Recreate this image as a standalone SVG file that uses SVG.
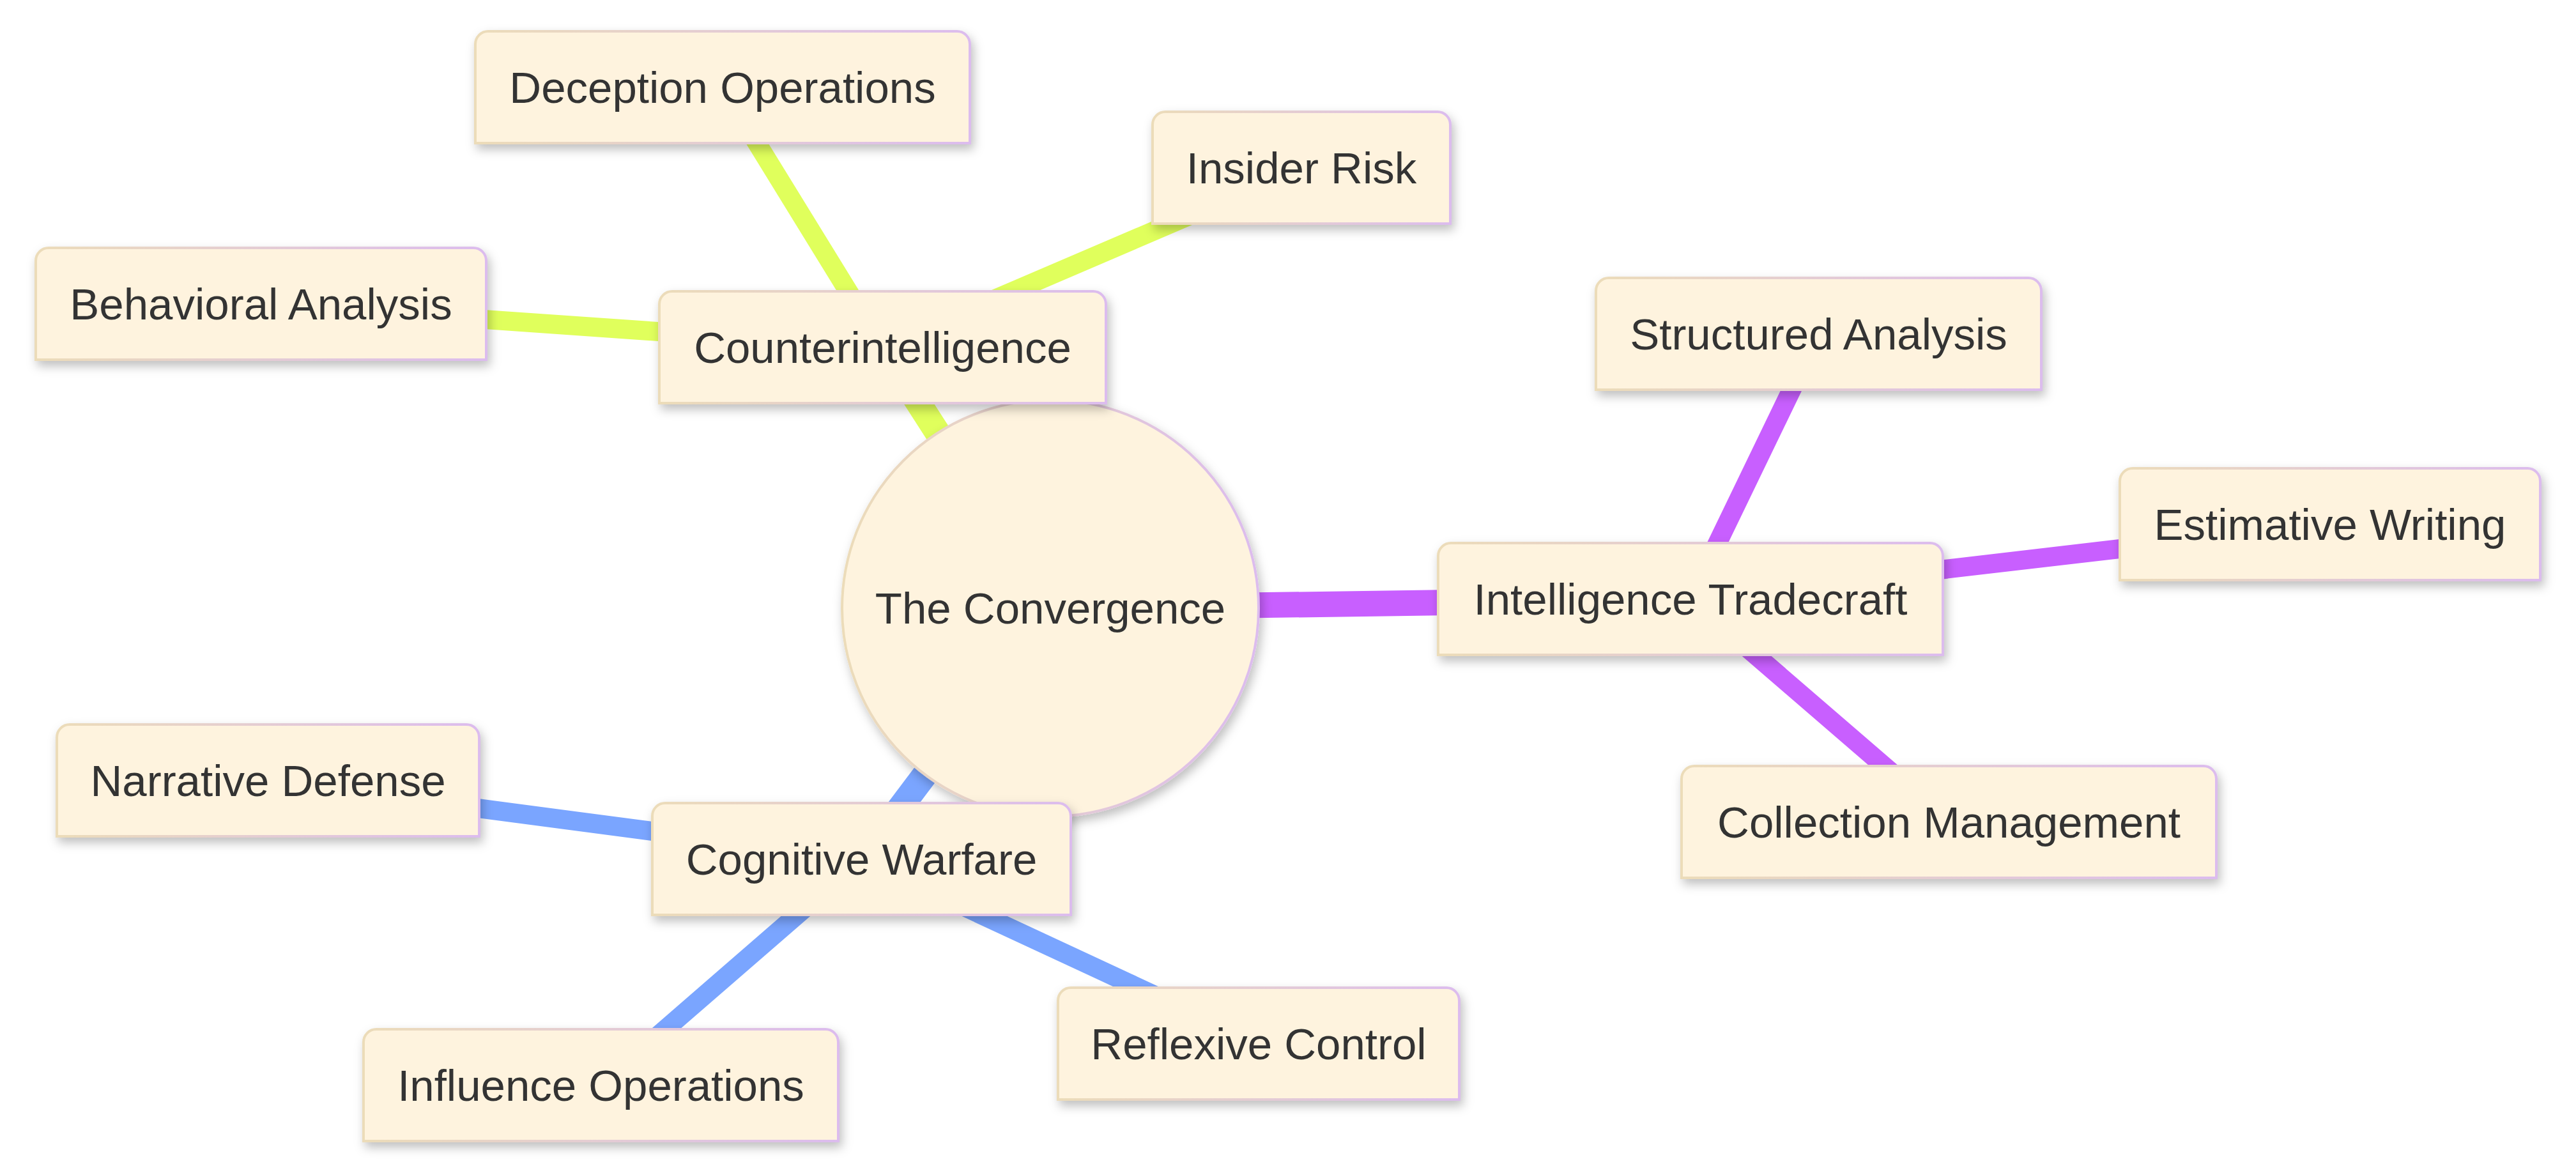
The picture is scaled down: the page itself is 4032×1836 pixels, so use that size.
<svg xmlns="http://www.w3.org/2000/svg" width="4032" height="1836" viewBox="0 0 4032 1836">
<defs>
<linearGradient id="border" x1="0" y1="0" x2="1" y2="0">
<stop offset="0" stop-color="#ecdcb9"/>
<stop offset="1" stop-color="#dcbcee"/>
</linearGradient>
<filter id="shadow" x="-10%" y="-20%" width="120%" height="150%">
<feDropShadow dx="4" dy="8" stdDeviation="8" flood-color="#000" flood-opacity="0.25"/>
</filter>
<style>
.node{fill:#fef3de;stroke:url(#border);stroke-width:4;filter:url(#shadow);}
.label{font-family:"Liberation Sans",Arial,sans-serif;font-size:69px;fill:#333;text-anchor:middle;}
.edge{fill:none;stroke-linecap:butt;}
.d1{stroke-width:40;}
.d2{stroke-width:30;}
.ci{stroke:#e0ff5c;}
.it{stroke:#c85fff;}
.cw{stroke:#7aa5ff;}
</style>
</defs>
<rect x="0" y="0" width="4032" height="1836" fill="#ffffff"/>
<g id="connectors">
<line class="edge d1 ci" x1="1644" y1="952" x2="1381.5" y2="543.5"/>
<line class="edge d1 it" x1="1644" y1="952" x2="2646" y2="937.5"/>
<line class="edge d1 cw" x1="1644" y1="952" x2="1348.5" y2="1344.5"/>
<line class="edge d2 ci" x1="1381.5" y1="543.5" x2="1131" y2="136.5"/>
<line class="edge d2 ci" x1="1381.5" y1="543.5" x2="2037" y2="262.5"/>
<line class="edge d2 ci" x1="1381.5" y1="543.5" x2="408.5" y2="475.5"/>
<line class="edge d2 it" x1="2646" y1="937.5" x2="2846.5" y2="522.5"/>
<line class="edge d2 it" x1="2646" y1="937.5" x2="3647" y2="820.5"/>
<line class="edge d2 it" x1="2646" y1="937.5" x2="3050.5" y2="1286.5"/>
<line class="edge d2 cw" x1="1348.5" y1="1344.5" x2="419.5" y2="1221.5"/>
<line class="edge d2 cw" x1="1348.5" y1="1344.5" x2="940.5" y2="1698.5"/>
<line class="edge d2 cw" x1="1348.5" y1="1344.5" x2="1970" y2="1633.5"/>
</g>
<g id="root">
<circle class="node" cx="1644" cy="952" r="326"/>
<text class="label" x="1644" y="976">The Convergence</text>
</g>
<g id="counterintelligence">
<path class="node" d="M1032,631 V476 A20,20 0 0 1 1052,456 H1711 A20,20 0 0 1 1731,476 V631 Z"/>
<text class="label" x="1381.5" y="567.5">Counterintelligence</text>
</g>
<g id="deception-operations">
<path class="node" d="M744,224 V69 A20,20 0 0 1 764,49 H1498 A20,20 0 0 1 1518,69 V224 Z"/>
<text class="label" x="1131" y="160.5">Deception Operations</text>
</g>
<g id="insider-risk">
<path class="node" d="M1804,350 V195 A20,20 0 0 1 1824,175 H2250 A20,20 0 0 1 2270,195 V350 Z"/>
<text class="label" x="2037" y="286.5">Insider Risk</text>
</g>
<g id="behavioral-analysis">
<path class="node" d="M56,563 V408 A20,20 0 0 1 76,388 H741 A20,20 0 0 1 761,408 V563 Z"/>
<text class="label" x="408.5" y="499.5">Behavioral Analysis</text>
</g>
<g id="intelligence-tradecraft">
<path class="node" d="M2251,1025 V870 A20,20 0 0 1 2271,850 H3021 A20,20 0 0 1 3041,870 V1025 Z"/>
<text class="label" x="2646" y="961.5">Intelligence Tradecraft</text>
</g>
<g id="structured-analysis">
<path class="node" d="M2498,610 V455 A20,20 0 0 1 2518,435 H3175 A20,20 0 0 1 3195,455 V610 Z"/>
<text class="label" x="2846.5" y="546.5">Structured Analysis</text>
</g>
<g id="estimative-writing">
<path class="node" d="M3318,908 V753 A20,20 0 0 1 3338,733 H3956 A20,20 0 0 1 3976,753 V908 Z"/>
<text class="label" x="3647" y="844.5">Estimative Writing</text>
</g>
<g id="collection-management">
<path class="node" d="M2632,1374 V1219 A20,20 0 0 1 2652,1199 H3449 A20,20 0 0 1 3469,1219 V1374 Z"/>
<text class="label" x="3050.5" y="1310.5">Collection Management</text>
</g>
<g id="cognitive-warfare">
<path class="node" d="M1021,1432 V1277 A20,20 0 0 1 1041,1257 H1656 A20,20 0 0 1 1676,1277 V1432 Z"/>
<text class="label" x="1348.5" y="1368.5">Cognitive Warfare</text>
</g>
<g id="narrative-defense">
<path class="node" d="M89,1309 V1154 A20,20 0 0 1 109,1134 H730 A20,20 0 0 1 750,1154 V1309 Z"/>
<text class="label" x="419.5" y="1245.5">Narrative Defense</text>
</g>
<g id="influence-operations">
<path class="node" d="M569,1786 V1631 A20,20 0 0 1 589,1611 H1292 A20,20 0 0 1 1312,1631 V1786 Z"/>
<text class="label" x="940.5" y="1722.5">Influence Operations</text>
</g>
<g id="reflexive-control">
<path class="node" d="M1656,1721 V1566 A20,20 0 0 1 1676,1546 H2264 A20,20 0 0 1 2284,1566 V1721 Z"/>
<text class="label" x="1970" y="1657.5">Reflexive Control</text>
</g>
</svg>
